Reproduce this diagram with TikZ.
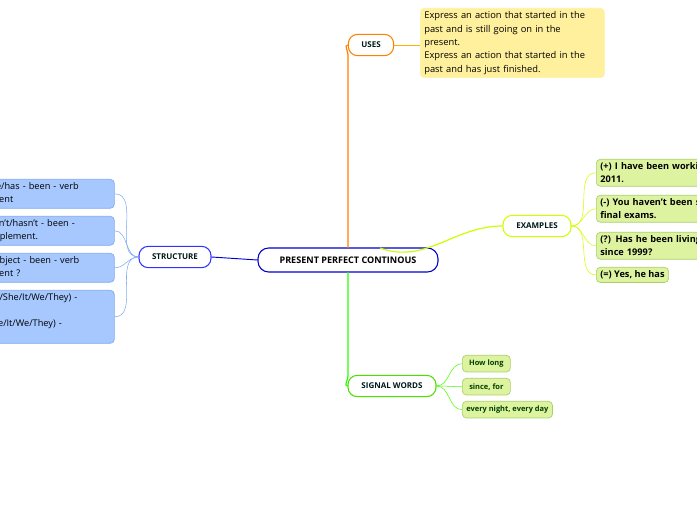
\documentclass[tikz,border=0pt]{standalone}
\usepackage{fontspec}
\setmainfont{Open Sans}
\definecolor{bfill}{HTML}{A6C8FF}
\definecolor{bdraw}{HTML}{7FAAF0}
\definecolor{gfill}{HTML}{DDF3A0}
\definecolor{gdraw}{HTML}{A9CF6A}
\definecolor{yfill}{HTML}{FFF09E}
\begin{document}
\begin{tikzpicture}[x=0.75pt,y=-0.75pt,
  topic/.style={draw,rounded corners=7pt,line width=0.8pt,fill=white,font=\fontsize{6}{7}\selectfont\bfseries,text=black!80!teal,minimum height=16pt,inner sep=2pt},
  leaf/.style={draw,rounded corners=3pt,line width=0.5pt,align=left,anchor=north west,font=\fontsize{6.9}{9.8}\selectfont,inner xsep=3pt,inner ysep=2.5pt},
  bleaf/.style={leaf,fill=bfill,draw=bdraw,text width=138pt},
  gleaf/.style={leaf,fill=gfill,draw=gdraw,font=\fontsize{6.9}{9.8}\selectfont\bfseries},
  sleaf/.style={leaf,fill=gfill,draw=gdraw,font=\fontsize{5.6}{7}\selectfont\bfseries,text=black!75!green,minimum height=12.5pt}]
\useasboundingbox (0,0) rectangle (697,520);
\clip (0,0) rectangle (697,520);
% central
\node[draw=blue!80!black,rounded corners=8pt,line width=0.8pt,fill=white,minimum width=135pt,minimum height=18pt,font=\fontsize{6.8}{8}\selectfont\bfseries] (c) at (348,260) {PRESENT PERFECT CONTINOUS};
% topics
\node[topic,draw=orange,minimum width=34pt] (uses) at (371,45) {USES};
\node[topic,draw=lime!80!yellow,minimum width=51pt] (ex) at (537,226) {EXAMPLES};
\node[topic,draw=blue!80!white,minimum width=54pt] (st) at (175,257) {STRUCTURE};
\node[topic,draw=green!80!black!60!lime,minimum width=66pt] (sw) at (392,386) {SIGNAL WORDS};
% main connectors
\draw[orange,line width=0.9pt] (348,248) -- (348,55) to[out=90,in=180] (uses.west);
\draw[lime!80!yellow,line width=0.9pt] (380,248) to[out=-20,in=180] (ex.west);
\draw[blue!80!black,line width=0.7pt] (c.west) -- (st.east);
\draw[green!80!lime,line width=0.9pt] (348,272) -- (348,376) to[out=-90,in=180] (sw.west);
% uses child
\node[leaf,fill=yfill,draw=yfill,text width=132pt,font=\fontsize{7}{10}\selectfont] (u1) at (420,8) {Express an action that started in the\\past and is still going on in the\\present.\\Express an action that started in the\\past and has just finished.};
\draw[orange!60!yellow] (uses.east) -- (u1.west |- uses.east);
% examples children
\node[gleaf,text width=170pt] (e1) at (596,159) {(+) I have been working here since\\2011.};
\node[gleaf,text width=170pt] (e2) at (596,195) {(-) You haven't been studying for\\final exams.};
\node[gleaf,text width=170pt] (e3) at (596,232) {(?) Has he been living in this house\\since 1999?};
\node[gleaf] (e4) at (596,267) {(=) Yes, he has};
\foreach \n in {e1,e2,e3,e4}{\draw[lime!70!yellow] (ex.east) to[out=0,in=180] (\n.west);}
% structure children
\node[bleaf] (s1) at (-78,179) {(+) Subject - have/has - been - verb\\+ ing + complement};
\node[bleaf] (s2) at (-78,216) {(-) Subject - haven't/hasn't - been -\\verb + ing + complement.};
\node[bleaf] (s3) at (-78,253) {(?) Have/has - subject - been - verb\\+ ing + complement ?};
\node[bleaf] (s4) at (-78,290) {(=) Yes, (I/You/He/She/It/We/They) -\\have/has.\\No, (I/You/He/She/It/We/They) -\\haven't/hasn't.};
\foreach \n in {s1,s2,s3,s4}{\draw[bdraw] (st.west) to[out=180,in=0] (\n.east);}
% signal words children
\node[sleaf,minimum width=36pt] (w1) at (462,355) {How long};
\node[sleaf,minimum width=36pt] (w2) at (462,378) {since, for};
\node[sleaf] (w3) at (462,401) {every night, every day};
\foreach \n in {w1,w2,w3}{\draw[green!60!lime] (sw.east) to[out=0,in=180] (\n.west);}
\end{tikzpicture}
\end{document}
